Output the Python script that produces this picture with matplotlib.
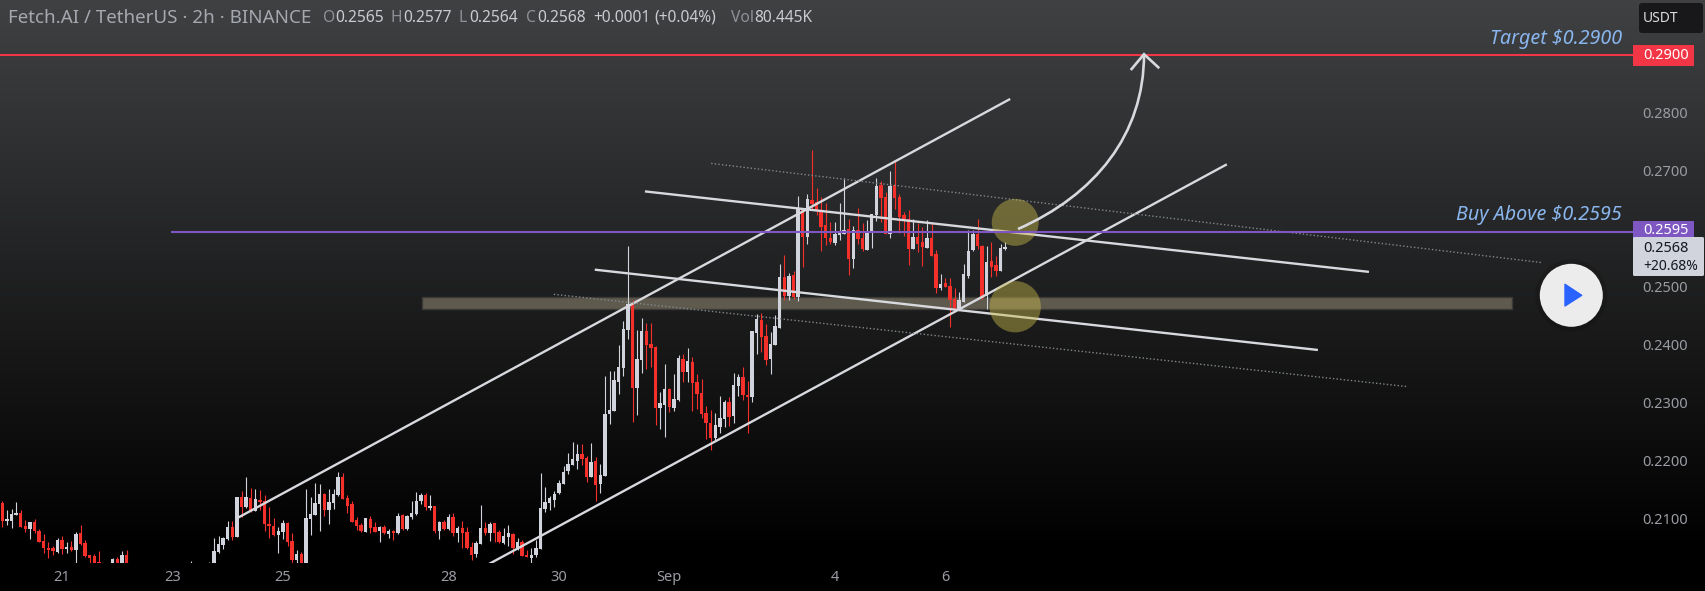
"""Fetch.AI / TetherUS 2h chart with hand drawn channels, in the trading terminal look."""

import matplotlib
matplotlib.use("Agg")
import matplotlib.pyplot as plt
import numpy as np
from matplotlib.patches import Circle, FancyBboxPatch, PathPatch, Polygon, Rectangle
from matplotlib.path import Path

nan = float("nan")

# candles, one per 2h, nan where the candle sits below the visible range
opens = [
    0.2127, 0.2096, 0.2096, 0.2106, 0.2110, 0.2087, 0.2082, 0.2095, 0.2079, 0.2061,
    0.2050, 0.2049, 0.2042, 0.2063, 0.2048, 0.2051, 0.2046, 0.2075, 0.2058, 0.2037,
    0.2035, 0.2025, nan, nan, 0.2015, 0.2031, 0.2015, 0.2038, nan, nan,
    nan, nan, nan, nan, nan, nan, nan, nan, nan, nan,
    nan, 0.2005, nan, nan, nan, 0.2005, 0.2015, 0.2042, 0.2054, 0.2065,
    0.2085, 0.2069, 0.2137, 0.2120, 0.2136, 0.2114, 0.2132, 0.2131, 0.2091, 0.2087,
    0.2072, 0.2077, 0.2093, 0.2061, 0.2029, 0.2039, 0.2023, 0.2099, 0.2106, 0.2125,
    0.2142, 0.2115, 0.2127, 0.2141, 0.2172, 0.2135, 0.2125, 0.2098, 0.2089, 0.2077,
    0.2099, 0.2085, 0.2079, 0.2085, 0.2073, 0.2078, 0.2075, 0.2106, 0.2082, 0.2103,
    0.2108, 0.2130, 0.2141, 0.2118, 0.2122, 0.2079, 0.2094, 0.2082, 0.2103, 0.2075,
    0.2084, 0.2077, 0.2051, 0.2039, 0.2056, 0.2084, 0.2075, 0.2092, 0.2077, 0.2058,
    0.2068, 0.2073, 0.2049, 0.2060, 0.2037, 0.2032, 0.2037, 0.2048, 0.2117, 0.2127,
    0.2132, 0.2144, 0.2160, 0.2182, 0.2192, 0.2199, 0.2211, 0.2205, 0.2172, 0.2199,
    0.2160, 0.2173, 0.2280, 0.2286, 0.2336, 0.2360, 0.2425, 0.2470, 0.2325, 0.2374,
    0.2424, 0.2401, 0.2396, 0.2291, 0.2296, 0.2324, 0.2291, 0.2305, 0.2375, 0.2353,
    0.2370, 0.2336, 0.2317, 0.2282, 0.2265, 0.2239, 0.2258, 0.2272, 0.2301, 0.2277,
    0.2329, 0.2344, 0.2313, 0.2310, 0.2420, 0.2443, 0.2415, 0.2375, 0.2399, 0.2429,
    0.2517, 0.2484, 0.2520, 0.2482, 0.2634, 0.2586, 0.2650, 0.2646, 0.2632, 0.2606,
    0.2584, 0.2575, 0.2589, 0.2591, 0.2600, 0.2548, 0.2598, 0.2584, 0.2563, 0.2594,
    0.2624, 0.2676, 0.2655, 0.2591, 0.2676, 0.2655, 0.2624, 0.2617, 0.2565, 0.2586,
    0.2577, 0.2567, 0.2584, 0.2556, 0.2498, 0.2507, 0.2501, 0.2479, 0.2462, 0.2474,
    0.2518, 0.2563, 0.2591, 0.2570, 0.2484, 0.2544, 0.2537, 0.2527, 0.2565,
]
closes = [
    0.2096, 0.2099, 0.2108, 0.2110, 0.2086, 0.2082, 0.2094, 0.2079, 0.2060, 0.2050,
    0.2046, 0.2044, 0.2063, 0.2048, 0.2051, 0.2046, 0.2073, 0.2056, 0.2035, 0.2032,
    0.2024, 0.2015, nan, nan, 0.2031, 0.2015, 0.2038, 0.2015, nan, nan,
    nan, nan, nan, nan, nan, nan, nan, nan, nan, nan,
    nan, 0.2010, nan, nan, nan, 0.2010, 0.2045, 0.2056, 0.2066, 0.2086,
    0.2068, 0.2137, 0.2120, 0.2137, 0.2113, 0.2134, 0.2129, 0.2091, 0.2087, 0.2071,
    0.2079, 0.2093, 0.2060, 0.2029, 0.2039, 0.2024, 0.2101, 0.2108, 0.2127, 0.2142,
    0.2115, 0.2129, 0.2142, 0.2172, 0.2134, 0.2122, 0.2094, 0.2087, 0.2079, 0.2101,
    0.2084, 0.2077, 0.2085, 0.2075, 0.2079, 0.2075, 0.2104, 0.2082, 0.2104, 0.2110,
    0.2130, 0.2141, 0.2120, 0.2122, 0.2079, 0.2094, 0.2082, 0.2103, 0.2075, 0.2084,
    0.2075, 0.2049, 0.2037, 0.2058, 0.2084, 0.2075, 0.2091, 0.2075, 0.2060, 0.2070,
    0.2075, 0.2050, 0.2060, 0.2036, 0.2033, 0.2037, 0.2049, 0.2118, 0.2129, 0.2136,
    0.2142, 0.2161, 0.2180, 0.2194, 0.2203, 0.2211, 0.2203, 0.2172, 0.2198, 0.2158,
    0.2175, 0.2280, 0.2287, 0.2339, 0.2361, 0.2427, 0.2470, 0.2325, 0.2375, 0.2424,
    0.2399, 0.2394, 0.2291, 0.2299, 0.2324, 0.2293, 0.2306, 0.2377, 0.2353, 0.2372,
    0.2334, 0.2315, 0.2280, 0.2265, 0.2239, 0.2261, 0.2273, 0.2301, 0.2275, 0.2331,
    0.2344, 0.2313, 0.2310, 0.2424, 0.2444, 0.2413, 0.2374, 0.2401, 0.2432, 0.2517,
    0.2484, 0.2519, 0.2482, 0.2634, 0.2586, 0.2651, 0.2643, 0.2632, 0.2603, 0.2584,
    0.2577, 0.2591, 0.2593, 0.2598, 0.2548, 0.2598, 0.2582, 0.2565, 0.2596, 0.2625,
    0.2674, 0.2653, 0.2591, 0.2674, 0.2653, 0.2620, 0.2615, 0.2565, 0.2586, 0.2574,
    0.2568, 0.2584, 0.2553, 0.2498, 0.2505, 0.2500, 0.2477, 0.2462, 0.2477, 0.2522,
    0.2562, 0.2591, 0.2570, 0.2480, 0.2543, 0.2534, 0.2527, 0.2567, 0.2568,
]
highs = [
    0.2130, 0.2115, 0.2117, 0.2128, 0.2115, 0.2097, 0.2094, 0.2099, 0.2082, 0.2073,
    0.2060, 0.2053, 0.2066, 0.2070, 0.2060, 0.2061, 0.2077, 0.2089, 0.2063, 0.2037,
    0.2039, 0.2045, nan, nan, 0.2032, 0.2033, 0.2045, 0.2046, nan, nan,
    nan, nan, nan, nan, nan, nan, nan, nan, nan, nan,
    nan, 0.2027, nan, nan, nan, 0.2025, 0.2066, 0.2070, 0.2069, 0.2096,
    0.2096, 0.2137, 0.2148, 0.2172, 0.2152, 0.2151, 0.2149, 0.2141, 0.2120, 0.2101,
    0.2086, 0.2097, 0.2095, 0.2075, 0.2046, 0.2042, 0.2151, 0.2137, 0.2162, 0.2160,
    0.2145, 0.2151, 0.2151, 0.2180, 0.2178, 0.2141, 0.2130, 0.2103, 0.2092, 0.2101,
    0.2104, 0.2095, 0.2087, 0.2089, 0.2083, 0.2080, 0.2110, 0.2108, 0.2106, 0.2130,
    0.2146, 0.2145, 0.2144, 0.2141, 0.2122, 0.2096, 0.2098, 0.2108, 0.2110, 0.2087,
    0.2096, 0.2085, 0.2060, 0.2061, 0.2123, 0.2094, 0.2094, 0.2092, 0.2080, 0.2084,
    0.2089, 0.2075, 0.2066, 0.2064, 0.2046, 0.2049, 0.2063, 0.2179, 0.2155, 0.2139,
    0.2148, 0.2167, 0.2191, 0.2213, 0.2232, 0.2229, 0.2229, 0.2208, 0.2230, 0.2206,
    0.2195, 0.2346, 0.2355, 0.2354, 0.2399, 0.2441, 0.2570, 0.2477, 0.2425, 0.2446,
    0.2437, 0.2437, 0.2398, 0.2318, 0.2367, 0.2325, 0.2349, 0.2382, 0.2384, 0.2394,
    0.2379, 0.2349, 0.2341, 0.2294, 0.2287, 0.2282, 0.2311, 0.2305, 0.2310, 0.2351,
    0.2349, 0.2362, 0.2337, 0.2424, 0.2453, 0.2455, 0.2436, 0.2422, 0.2451, 0.2539,
    0.2555, 0.2523, 0.2527, 0.2656, 0.2636, 0.2660, 0.2736, 0.2670, 0.2655, 0.2644,
    0.2612, 0.2612, 0.2644, 0.2688, 0.2617, 0.2604, 0.2636, 0.2610, 0.2615, 0.2625,
    0.2688, 0.2682, 0.2663, 0.2700, 0.2719, 0.2660, 0.2629, 0.2632, 0.2617, 0.2610,
    0.2603, 0.2615, 0.2610, 0.2563, 0.2522, 0.2515, 0.2515, 0.2498, 0.2491, 0.2539,
    0.2598, 0.2598, 0.2617, 0.2572, 0.2570, 0.2577, 0.2553, 0.2574, 0.2577,
]
lows = [
    0.2086, 0.2089, 0.2084, 0.2106, 0.2086, 0.2077, 0.2065, 0.2075, 0.2059, 0.2040,
    0.2032, 0.2038, 0.2040, 0.2039, 0.2040, 0.2044, 0.2015, 0.2054, 0.2033, 0.2020,
    0.2015, 0.2010, nan, nan, 0.2010, 0.2010, 0.2012, 0.2012, nan, nan,
    nan, nan, nan, nan, nan, nan, nan, nan, nan, nan,
    nan, 0.2000, nan, nan, nan, 0.2000, 0.2010, 0.2040, 0.2047, 0.2064,
    0.2064, 0.2069, 0.2103, 0.2119, 0.2112, 0.2113, 0.2115, 0.2079, 0.2067, 0.2070,
    0.2041, 0.2065, 0.2052, 0.2018, 0.2018, 0.2018, 0.2018, 0.2072, 0.2106, 0.2079,
    0.2105, 0.2091, 0.2117, 0.2139, 0.2134, 0.2110, 0.2094, 0.2080, 0.2077, 0.2077,
    0.2076, 0.2077, 0.2060, 0.2074, 0.2066, 0.2063, 0.2073, 0.2081, 0.2081, 0.2099,
    0.2106, 0.2126, 0.2115, 0.2115, 0.2076, 0.2065, 0.2080, 0.2081, 0.2070, 0.2060,
    0.2049, 0.2048, 0.2029, 0.2033, 0.2056, 0.2072, 0.2061, 0.2060, 0.2058, 0.2057,
    0.2053, 0.2039, 0.2046, 0.2036, 0.2033, 0.2022, 0.2034, 0.2048, 0.2111, 0.2115,
    0.2120, 0.2142, 0.2160, 0.2177, 0.2192, 0.2186, 0.2192, 0.2163, 0.2172, 0.2130,
    0.2144, 0.2173, 0.2263, 0.2285, 0.2315, 0.2346, 0.2409, 0.2267, 0.2279, 0.2351,
    0.2358, 0.2362, 0.2261, 0.2255, 0.2241, 0.2284, 0.2285, 0.2303, 0.2336, 0.2336,
    0.2286, 0.2289, 0.2274, 0.2237, 0.2218, 0.2234, 0.2248, 0.2258, 0.2260, 0.2265,
    0.2312, 0.2305, 0.2248, 0.2301, 0.2384, 0.2387, 0.2365, 0.2349, 0.2399, 0.2429,
    0.2477, 0.2477, 0.2479, 0.2475, 0.2534, 0.2574, 0.2632, 0.2624, 0.2562, 0.2572,
    0.2574, 0.2572, 0.2581, 0.2591, 0.2520, 0.2532, 0.2574, 0.2562, 0.2563, 0.2567,
    0.2613, 0.2612, 0.2591, 0.2584, 0.2634, 0.2593, 0.2588, 0.2537, 0.2565, 0.2560,
    0.2536, 0.2567, 0.2553, 0.2489, 0.2494, 0.2499, 0.2431, 0.2456, 0.2460, 0.2474,
    0.2515, 0.2561, 0.2565, 0.2478, 0.2462, 0.2517, 0.2518, 0.2527, 0.2564,
]

# axis labels, 0.2600 is left out because the price tags cover it
date_ticks = [13, 37, 61, 97, 121, 145, 181, 205]
date_labels = ["21", "23", "25", "28", "30", "Sep", "4", "6"]
price_ticks = [0.21, 0.22, 0.23, 0.24, 0.25, 0.27, 0.28]

# levels and drawings, as (candle index, price)
target_price = 0.2900
buy_price = 0.2595
buy_start = 36.7
zone_low, zone_high = 0.2462, 0.2483
zone_start, zone_end = 91.2, 328.3

solid_lines = [
    ([51.0, 219.1], [0.21006, 0.28238]),
    ([105.8, 266.2], [0.20218, 0.27111]),
    ([139.7, 297.1], [0.26644, 0.25256]),
    ([128.8, 286.0], [0.25294, 0.23909]),
]
dotted_lines = [
    ([154.1, 334.9], [0.27127, 0.25414]),
    ([119.9, 305.6], [0.24869, 0.23276]),
]
circle_x = [220.2, 220.2]
circle_y = [0.2611, 0.24655]
circle_sizes = [1143, 1366]

arrow_x = [220.8, 237.5, 248.2, 248.2]
arrow_y = [0.25995, 0.26582, 0.27617, 0.2901]
head_x = [245.5, 248.2, 251.3]
head_y = [0.28755, 0.2901, 0.28784]

WIDTH, HEIGHT = 1705, 591
PLOT_RIGHT, PLOT_BOTTOM = 1633, 563

UP = "#d1d4dc"
DOWN = "#f5302a"
LABEL = "#9a9ca3"
LINE = "#d8d9de"
plt.rcParams["font.family"] = ["Noto Sans", "DejaVu Sans"]

fig = plt.figure(figsize=(WIDTH / 100, HEIGHT / 100), dpi=100)

# background gradient
bg = fig.add_axes([0, 0, 1, 1], zorder=0)
bg.axis("off")
levels = np.clip(1 - np.linspace(0, 1, HEIGHT) * HEIGHT / 550, 0, 1)[:, None, None]
bg.imshow(levels * np.array([[[64, 65, 67]]]) / 255, aspect="auto")

ax = fig.add_axes(
    [0, 1 - PLOT_BOTTOM / HEIGHT, PLOT_RIGHT / WIDTH, PLOT_BOTTOM / HEIGHT], zorder=1
)
ax.patch.set_alpha(0)
for spine in ax.spines.values():
    spine.set_visible(False)
ax.set_xlim(-0.5, 354.5)
ax.set_ylim(0.20235, 0.29945)

# candles
idx = np.arange(len(opens))
o, c, h, l = map(np.array, (opens, closes, highs, lows))
colors = [UP if close >= op else DOWN for op, close in zip(o, c)]
ax.vlines(idx, l, h, colors=colors, linewidth=0.8, zorder=2)
ax.bar(idx, np.abs(c - o), bottom=np.minimum(o, c), width=0.72, color=colors, linewidth=0, zorder=3)

# support zone sits behind the candles
ax.add_patch(Rectangle((zone_start, zone_low), zone_end - zone_start, zone_high - zone_low,
                       facecolor="#5f5a4e", edgecolor="#3b3a37", linewidth=1, zorder=1))

for xs, ys in solid_lines:
    ax.plot(xs, ys, color=LINE, linewidth=1.7, solid_capstyle="butt", zorder=4)
for xs, ys in dotted_lines:
    ax.plot(xs, ys, color="#85868a", linewidth=1.0, linestyle=(0, (1, 1.6)), zorder=4)

ax.scatter(circle_x, circle_y, s=circle_sizes, color="#c8b84a", alpha=0.45, linewidth=0, zorder=5)

ax.hlines(target_price, -0.5, 354.5, color="#f23645", linewidth=1.5, zorder=6)
ax.hlines(buy_price, buy_start, 354.5, color="#7e57c2", linewidth=1.5, zorder=6)

# target arrow
curve = Path(list(zip(arrow_x, arrow_y)), [Path.MOVETO, Path.CURVE4, Path.CURVE4, Path.CURVE4])
ax.add_patch(PathPatch(curve, facecolor="none", edgecolor=LINE, linewidth=1.9, zorder=7))
ax.plot(head_x, head_y, color=LINE, linewidth=1.9, zorder=7, solid_joinstyle="miter")

ax.yaxis.tick_right()
ax.set_yticks(price_ticks, [f"{p:.4f}" for p in price_ticks])
ax.set_xticks(date_ticks, date_labels)
ax.tick_params(axis="both", length=0, labelcolor=LABEL, labelsize=10.5)
ax.tick_params(axis="y", pad=7)
ax.tick_params(axis="x", pad=5)
for tick in ax.get_xticklabels():
    if tick.get_text() == "Sep":
        tick.set_fontweight("bold")

# terminal furniture, placed in pixels
ui = fig.add_axes([0, 0, 1, 1], zorder=2)
ui.axis("off")
ui.set_xlim(0, WIDTH)
ui.set_ylim(HEIGHT, 0)

ui.text(8, 18, "Fetch.AI / TetherUS · 2h · BINANCE", color="#a6a8b0", fontsize=13.5, va="center")
legend_pieces = [
    (323, "O", "#8f9199"), (335, "0.2565", "#c9cbd1"),
    (391, "H", "#8f9199"), (403, "0.2577", "#c9cbd1"),
    (459, "L", "#8f9199"), (469, "0.2564", "#c9cbd1"),
    (526, "C", "#8f9199"), (537, "0.2568", "#c9cbd1"),
    (593, "+0.0001", "#c9cbd1"), (654, "(+0.04%)", "#c9cbd1"),
    (731, "Vol", "#8f9199"), (754, "80.445K", "#c9cbd1"),
]
for px, piece, color in legend_pieces:
    ui.text(px, 18, piece, color=color, fontsize=11.2, va="center")

for text, py in [("Target $0.2900", 39), ("Buy Above $0.2595", 215)]:
    ui.text(1622, py, text, color="#8ab6ee", fontsize=14.2, style="italic", ha="right", va="center")

ui.add_patch(FancyBboxPatch((1639, 3), 64, 30, boxstyle="round,pad=0,rounding_size=3",
                            facecolor="#18181a", edgecolor="none"))
ui.text(1643, 18, "USDT", color="#dcdcdc", fontsize=10, va="center")

ui.add_patch(Rectangle((1633, 45), 61, 21, facecolor="#f23645", edgecolor="none"))
ui.text(1643, 55.5, "0.2900", color="white", fontsize=10.5, fontweight="bold", va="center")
ui.add_patch(Rectangle((1633, 221), 61, 18, facecolor="#7e57c2", edgecolor="none"))
ui.text(1643, 231, "0.2595", color="white", fontsize=10.5, fontweight="bold", va="center")
ui.add_patch(FancyBboxPatch((1633, 237), 71, 39, boxstyle="round,pad=0,rounding_size=1.5",
                            facecolor="#d1d4dc", edgecolor="none"))
ui.text(1643, 248, "0.2568", color="#131722", fontsize=10.5, va="center")
ui.text(1643, 266, "+20.68%", color="#131722", fontsize=10, va="center")

ui.add_patch(Circle((1571.3, 295.3), 36, facecolor="black", edgecolor="none", alpha=0.12))
ui.add_patch(Circle((1571.3, 295.3), 31.5, facecolor="#ececec", edgecolor="none"))
ui.add_patch(Polygon([(1565, 284.3), (1581.7, 295.3), (1565, 306)], closed=True,
                     facecolor="#2962ff", edgecolor="#2962ff", linewidth=1, joinstyle="round"))

fig.savefig("out.png", dpi=100)
